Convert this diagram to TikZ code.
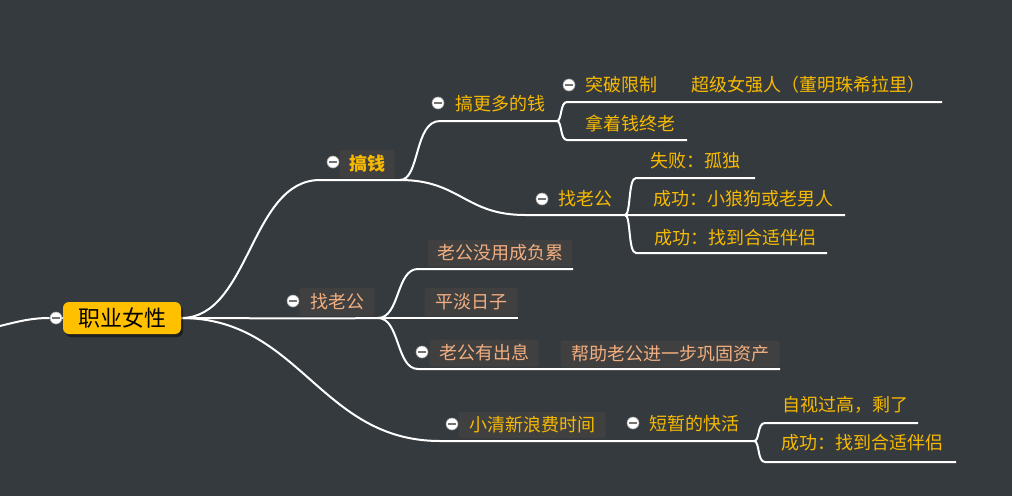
\documentclass[tikz,border=0pt]{standalone}
\usepackage{fontspec}
\setmainfont{Noto Sans CJK SC}
\usetikzlibrary{shadows}
\definecolor{bgc}{HTML}{353A3F}
\definecolor{boxc}{HTML}{404040}
\definecolor{goldc}{HTML}{FFC000}
\definecolor{ytext}{HTML}{F7BA00}
\definecolor{ptext}{HTML}{F2AE80}
\pgfdeclarelayer{bg}
\pgfdeclarelayer{lines}
\pgfsetlayers{bg,lines,main}
\tikzset{
  link/.style={draw=white, line width=2pt},
  lbl/.style={inner sep=0pt, font=\fontsize{18}{20}\selectfont},
  ylbl/.style={lbl, text=ytext},
  plbl/.style={lbl, text=ptext},
  boxed/.style={fill=boxc, rounded corners=2pt, inner sep=0pt},
  collapse/.style={circle, fill=white, draw=gray!70, line width=0.6pt, minimum size=12pt, inner sep=0pt,
    path picture={\draw[line width=1.8pt, gray!90!black] ([xshift=-3.6pt]path picture bounding box.center) -- ([xshift=3.6pt]path picture bounding box.center);}},
  rootbox/.style={fill=goldc, rounded corners=6pt, minimum width=118pt, minimum height=32pt, inner sep=0pt,
    text=black, font=\fontsize{22}{24}\selectfont,
    drop shadow={shadow xshift=2pt, shadow yshift=-3pt, fill=black, opacity=0.45}}
}
\begin{document}
\begin{tikzpicture}[x=1pt, y=-1pt]
\begin{pgfonlayer}{bg}
\fill[bgc] (0,0) rectangle (1012,496);
\end{pgfonlayer}
\useasboundingbox (0,0) rectangle (1012,496);

% root
\node[rootbox] (root) at (122,318) {职业女性};
\node[collapse] (c0) at (56,318) {};
\coordinate (lin) at (0,326);

% branch 1
\node[boxed, minimum width=55pt, minimum height=28pt] (gqbox) at (367,164) {};
\node[ylbl, font=\fontsize{18}{20}\selectfont\bfseries] (gq) at (367,164) {搞钱};
\node[collapse] (c1) at (333,162) {};
\node[ylbl] (gdm) at (500,104) {搞更多的钱};
\node[collapse] (c2) at (438,103) {};
\node[ylbl] (tp) at (621,85) {突破限制};
\node[collapse] (c3) at (569,85) {};
\node[ylbl] (cj) at (808,85) {超级女强人（董明珠希拉里）};
\node[ylbl] (nq) at (630,123) {拿着钱终老};
\node[ylbl] (zlg1) at (585,199) {找老公};
\node[collapse] (c4) at (542,199) {};
\node[ylbl] (sb) at (695,161) {失败：孤独};
\node[ylbl] (cg1) at (743,199) {成功：小狼狗或老男人};
\node[ylbl] (cg2) at (735,238) {成功：找到合适伴侣};

% branch 2
\node[boxed, minimum width=75pt, minimum height=28pt] (zlg2box) at (337,302) {};
\node[plbl] (zlg2) at (337,302) {找老公};
\node[collapse] (c5) at (293,301) {};
\node[boxed, minimum width=144pt, minimum height=27pt] (mrbox) at (500,253) {};
\node[plbl] (mr) at (500,253) {老公没用成负累};
\node[boxed, minimum width=93pt, minimum height=28pt] (pdbox) at (471,302) {};
\node[plbl] (pd) at (471,302) {平淡日子};
\node[boxed, minimum width=109pt, minimum height=27pt] (ycbox) at (484,353) {};
\node[plbl] (yc) at (484,353) {老公有出息};
\node[collapse] (c6) at (422,352) {};
\node[boxed, minimum width=219pt, minimum height=27pt] (bzbox) at (670,354) {};
\node[plbl] (bz) at (670,354) {帮助老公进一步巩固资产};

% branch 3
\node[boxed, minimum width=147pt, minimum height=26pt] (xqbox) at (532,425) {};
\node[ylbl] (xq) at (532,425) {小清新浪费时间};
\node[collapse] (c7) at (452,424) {};
\node[ylbl] (dz) at (694,424) {短暂的快活};
\node[collapse] (c8) at (633,423) {};
\node[ylbl] (zs) at (845,405) {自视过高，剩了};
\node[ylbl] (cg3) at (862,443) {成功：找到合适伴侣};

% branch points
\coordinate (b1) at (400,180);
\coordinate (b2) at (557,121);
\coordinate (b3) at (625,215);
\coordinate (b4) at (378,318);
\coordinate (b5) at (754,441);

\begin{pgfonlayer}{lines}
\draw[link] (lin) .. controls (20,321) and (32,318) .. (c0.west);
\draw[link] (c0.east) -- (root.west);
% branch 1
\draw[link] (root.east) .. controls (250,318) and (250,180) .. (320,180) -- (b1);
\draw[link] (b1) .. controls (420,180) and (414,121) .. (440,121) -- (b2);
\draw[link] (b2) .. controls (562,121) and (560,102) .. (567,102) -- (942,102);
\draw[link] (b2) .. controls (562,121) and (560,140) .. (567,140) -- (687,140);
\draw[link] (b1) .. controls (460,180) and (465,215) .. (525,215) -- (b3) -- (845,215);
\draw[link] (b3) .. controls (631,215) and (628,178) .. (636,178) -- (755,178);
\draw[link] (b3) .. controls (631,215) and (628,253) .. (636,253) -- (827,253);
% branch 2
\draw[link] (root.east) .. controls (250,318) and (300,319) .. (b4);
\draw[link] (b4) .. controls (400,318) and (396,269) .. (418,269) -- (573,269);
\draw[link] (b4) -- (518,318);
\draw[link] (b4) .. controls (400,318) and (396,369) .. (418,369) -- (780,369);
% branch 3
\draw[link] (root.east) .. controls (300,318) and (320,441) .. (440,441) -- (b5);
\draw[link] (b5) .. controls (760,441) and (757,423) .. (765,423) -- (918,423);
\draw[link] (b5) .. controls (760,441) and (757,462) .. (765,462) -- (956,462);
\end{pgfonlayer}
\end{tikzpicture}
\end{document}
